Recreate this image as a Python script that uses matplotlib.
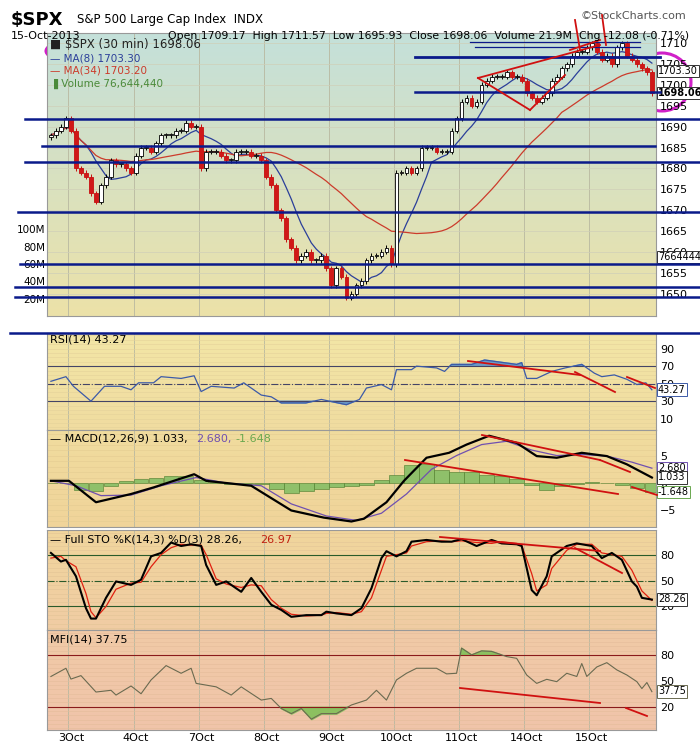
import numpy as np
import pandas as pd
import matplotlib
matplotlib.use("Agg")
import matplotlib.pyplot as plt
from matplotlib.patches import Ellipse
from matplotlib.lines import Line2D
from matplotlib.colors import LinearSegmentedColormap

# ---- data (30-min bars, 2-15 Oct 2013) ----
closes = [1688, 1689, 1690, 1692, 1689, 1680, 1679, 1678, 1674, 1672, 1676, 1678, 1682, 1681, 1681,
          1680, 1679, 1683, 1685, 1685, 1684, 1686, 1688, 1688, 1688, 1689, 1689, 1691, 1690, 1690,
          1680, 1684, 1684, 1684, 1683, 1682, 1682, 1684, 1684, 1684, 1683, 1683, 1682,
          1678, 1676, 1670, 1668, 1663, 1661, 1658, 1659, 1660, 1658, 1658, 1659, 1656,
          1652, 1656, 1654, 1649, 1650, 1652, 1653, 1658, 1659, 1659, 1660, 1661, 1657,
          1679, 1679, 1680, 1679, 1680, 1685, 1685, 1685, 1684, 1684, 1684, 1689, 1692,
          1696, 1697, 1695, 1696, 1700, 1701, 1702, 1702, 1702, 1703, 1702, 1702, 1701,
          1698, 1697, 1696, 1697, 1698, 1701, 1702, 1704, 1705, 1707, 1708, 1708, 1709,
          1710, 1708, 1706, 1707, 1705, 1709, 1710, 1707, 1706, 1705, 1704, 1703, 1698]
first_open = 1687.5

volume = [22, 20, 25, 70, 45, 32, 30, 28, 26, 22, 20, 22, 18, 20, 24, 22, 75, 43, 28, 25, 24, 22, 20, 18,
          16, 16, 18, 20, 22, 70, 30, 28, 25, 22, 20, 18, 20, 22, 18, 16, 20, 22, 24,
          77, 55, 30, 28, 25, 22, 22, 20, 30, 35, 32, 40, 38, 42, 30, 28, 25, 22, 30, 26, 22,
          28, 25, 40, 48, 35, 65, 35, 28, 22, 20, 18, 20, 18, 20, 22, 20, 18, 25,
          88, 55, 35, 30, 22, 20, 18, 22, 20, 18, 20, 22, 25, 75, 52, 30, 25, 22, 20, 18,
          20, 22, 18, 16, 20, 22, 72, 40, 30, 25, 22, 20, 18, 20, 22, 18, 28, 30, 78]

day_labels = ["3Oct", "4Oct", "7Oct", "8Oct", "9Oct", "10Oct", "11Oct", "14Oct", "15Oct"]
day_index = [4, 17, 30, 43, 56, 69, 82, 95, 108]

rsi_x = [0, 3, 4.5, 8, 10.7, 14, 16, 17.5, 20.5, 22, 26, 28.6, 30, 32, 36.6, 38.5, 42, 44, 46, 50.9,
         54, 59, 61.6, 63, 66, 68, 69, 72, 73, 77, 78.6, 80, 84, 86.6, 93, 94, 95, 97, 100, 102.7,
         106, 108.5, 110, 112.5, 115, 117, 118.8, 120]
rsi_y = [52.7, 58, 47, 30, 47, 47, 43, 51, 51, 58, 56, 59, 41, 47, 45, 51, 37, 35, 28, 28,
         32, 26, 32, 45, 49, 43, 66, 66, 70, 68, 64, 72, 72, 77, 72, 74, 56, 56, 64, 68,
         72, 62, 58, 60, 55, 49, 51, 43]

macd_x = [0, 3.6, 9, 16, 20.5, 28.6, 31, 40, 48, 54.5, 60, 62.5, 67, 70.5, 75, 79.5, 83, 87.5,
          93, 97, 101, 106, 111, 115, 120]
macd_y = [0.4, 0.4, -3.5, -2.0, -0.8, 1.6, 0.4, -0.5, -5.0, -6.3, -7.0, -6.5, -3.5, 0.4, 4.6, 5.5,
          7.0, 8.6, 7.3, 4.9, 4.6, 5.5, 4.9, 3.4, 1.0]
signal_x = [0, 5, 10, 16, 22, 29, 35, 42, 48, 55, 61, 66, 71, 76, 81, 86, 91, 96, 101, 106, 111,
            116, 120]
signal_y = [0.4, -0.5, -2.3, -2.2, -0.5, 1.0, 0.0, -0.5, -3.8, -6.0, -6.8, -5.5, -2.0, 2.5, 5.0,
            7.0, 7.6, 6.0, 5.0, 5.2, 4.9, 3.8, 2.7]
hist_x = list(range(0, 121, 3))
hist_y = [0, 0, -1.2, -1.5, -0.5, 0.3, 0.7, 1.0, 1.3, 1.2, 0.6, 0.2, -0.2, -0.2, -0.2, -1.0, -1.8,
          -1.5, -1.0, -0.8, -0.6, -0.3, 0.5, 1.5, 3.2, 3.5, 2.3, 2.0, 2.0, 1.5, 1.2, 0.8, -0.3,
          -1.2, -0.6, -0.2, 0.2, 0.0, -0.4, -0.9, -1.6]

sto_x = [0, 2, 3, 5, 7, 8, 9, 11, 13, 16, 18, 20, 22, 24, 26, 28, 30, 31, 33, 35, 38, 40, 42, 44,
         46, 48, 51, 54, 55, 57, 60, 62, 64, 66, 67, 69, 71, 72, 75, 78, 80, 82, 85, 88, 90, 93,
         94, 96, 97, 99, 100, 103, 105, 108, 110, 112, 114, 116, 117, 118, 120]
sto_k = [82, 72, 74, 55, 18, 6, 6, 30, 49, 45, 51, 78, 82, 94, 90, 92, 90, 68, 45, 49, 37, 53, 37,
         22, 16, 8, 10, 10, 14, 12, 10, 18, 41, 76, 84, 78, 84, 95, 97, 95, 95, 98, 90, 97, 93, 92,
         90, 39, 33, 55, 78, 90, 93, 90, 76, 82, 74, 49, 43, 30, 28]
sto_d = [76, 78, 73, 66, 35, 14, 7, 20, 40, 47, 48, 66, 80, 88, 92, 91, 91, 80, 52, 46, 42, 45,
         44, 28, 18, 11, 9, 10, 12, 13, 11, 14, 30, 62, 78, 80, 82, 90, 95, 96, 95, 96, 94, 93,
         95, 93, 91, 58, 38, 45, 64, 85, 92, 92, 82, 80, 78, 62, 50, 38, 27]

mfi_x = [0, 3, 4, 6, 9, 12, 13, 16, 18, 20, 23, 26, 28, 29, 33, 36, 38, 42, 44, 46, 48, 50, 52,
         54, 57, 60, 63, 65, 67, 69, 71, 73, 77, 79, 81, 82, 84, 86, 88, 91, 93, 95, 97, 99, 101,
         103, 105, 106, 107, 109, 111, 113, 115, 117, 118, 119, 120]
mfi_y = [55, 64.5, 52, 56, 37, 39, 33.5, 44, 35, 51, 67.6, 58.7, 64.5, 47, 43, 33.5, 43, 27.7,
         29.6, 18, 12, 18, 5.6, 12, 12, 22, 27.7, 39, 27.7, 51, 58.7, 64.5, 64.5, 58, 58.7, 87.8,
         80, 84.6, 84, 78, 76, 56.7, 47, 51.7, 49, 58.7, 55, 70, 55, 66, 71, 62.6, 56.7, 49, 41,
         48, 37.4]

# ---- figure ----
fig = plt.figure(figsize=(7, 7.48), dpi=100)
fig.patch.set_facecolor("white")
L, W = 0.067, 0.870
ax = fig.add_axes([L, 0.5775, W, 0.378])
ax_rsi = fig.add_axes([L, 0.425, W, 0.130])
ax_macd = fig.add_axes([L, 0.2955, W, 0.130])
ax_sto = fig.add_axes([L, 0.158, W, 0.134])
ax_mfi = fig.add_axes([L, 0.024, W, 0.134])

N = len(closes)
x = np.arange(N)
xlim = (-0.8, N - 0.2)


def bg(a, top, bottom, ylim):
    grad = np.linspace(0, 1, 100)[:, None]
    cm = LinearSegmentedColormap.from_list("g", [top, bottom])
    a.imshow(grad, aspect="auto", cmap=cm, extent=(xlim[0], xlim[1], ylim[0], ylim[1]),
             origin="upper", zorder=0)
    a.set_xlim(*xlim)
    a.set_ylim(*ylim)
    for d in day_index:
        a.axvline(d - 0.5, color="#b8b8a0", lw=0.6, zorder=0.5)
    for s in a.spines.values():
        s.set_color("#999999")
        s.set_linewidth(0.8)
    a.yaxis.tick_right()
    a.tick_params(axis="y", length=0, labelsize=8, pad=3)
    a.tick_params(axis="x", length=0, labelbottom=False)


# main price panel
pylim = (1644.6, 1712.4)
bg(ax, "#c4e0da", "#ece2a8", pylim)
for p in range(1650, 1712, 5):
    ax.axhline(p, color="#cfcfb8", lw=0.5, zorder=0.5)

axv = ax.twinx()
axv.set_ylim(0, 326)
axv.set_xlim(*xlim)
opens = [first_open] + closes[:-1]
vcol = ["#8fbf6a" if c >= o else "#e08a8a" for o, c in zip(opens, closes)]
axv.bar(x, volume, width=0.85, color=vcol, alpha=0.8, zorder=1)
axv.yaxis.tick_left()
axv.yaxis.set_label_position("left")
axv.set_yticks([20, 40, 60, 80, 100])
axv.set_yticklabels(["20M", "40M", "60M", "80M", "100M"])
axv.tick_params(axis="y", length=0, labelsize=7.5, pad=1)
for s in axv.spines.values():
    s.set_visible(False)
ax.set_zorder(axv.get_zorder() + 1)
ax.patch.set_visible(False)
ax.yaxis.tick_right()
ax.set_yticks(range(1650, 1711, 5))
ax.tick_params(axis="y", length=0, labelsize=8, pad=3, labelleft=False, labelright=True)

s = pd.Series(closes, dtype=float)
ma8 = s.rolling(8, min_periods=1).mean()
ma34 = s.rolling(34, min_periods=1).mean()
ax.plot(x, ma8, color="#2b3f9a", lw=0.9, zorder=3)
ax.plot(x, ma34, color="#cc3b2b", lw=0.9, zorder=3)
for i in range(N):
    o, c = opens[i], closes[i]
    hi, lo = max(o, c) + 0.6, min(o, c) - 0.6
    col = "black" if c >= o else "#c81010"
    ax.vlines(i, lo, hi, color=col, lw=0.7, zorder=4)
    body = max(abs(c - o), 0.25)
    ax.bar(i, body, bottom=min(o, c), width=0.75,
           color="white" if c >= o else "#d01818", edgecolor=col, lw=0.6, zorder=5)

ax.text(0.005, 0.985, "\u25a0 $SPX (30 min) 1698.06", transform=ax.transAxes, fontsize=8.5,
        va="top", color="#222222")
ax.text(0.005, 0.93, "\u2014 MA(8) 1703.30", transform=ax.transAxes, fontsize=7.5, va="top",
        color="#2b3f9a")
ax.text(0.005, 0.885, "\u2014 MA(34) 1703.20", transform=ax.transAxes, fontsize=7.5, va="top",
        color="#cc3b2b")
ax.text(0.005, 0.84, "\u2590 Volume 76,644,440", transform=ax.transAxes, fontsize=7.5, va="top",
        color="#4a8a3a")

# RSI
bg(ax_rsi, "#f3e6a6", "#f0dca0", (-3, 108))
for v in range(0, 108, 5):
    ax_rsi.axhline(v, color="#e4d29a", lw=0.4, zorder=0.5)
ax_rsi.axhline(70, color="#444466", lw=0.8)
ax_rsi.axhline(30, color="#444466", lw=0.8)
ax_rsi.axhline(50, color="#444466", lw=0.8, ls="-.")
ry = np.array(rsi_y)
ax_rsi.fill_between(rsi_x, ry, 70, where=ry > 70, color="#6a9ac8", interpolate=True)
ax_rsi.fill_between(rsi_x, ry, 30, where=ry < 30, color="#6a9ac8", interpolate=True)
ax_rsi.plot(rsi_x, rsi_y, color="#3c5aa8", lw=0.9)
ax_rsi.set_yticks([10, 30, 50, 70, 90])
ax_rsi.text(0.005, 0.98, "RSI(14) 43.27", transform=ax_rsi.transAxes, fontsize=8, va="top")

# MACD
bg(ax_macd, "#f0dc9e", "#f0d49a", (-8, 9.7))
for v in np.arange(-8, 10, 1):
    ax_macd.axhline(v, color="#e4cc92", lw=0.4, zorder=0.5)
ax_macd.bar(hist_x, hist_y, width=2.9, color="#8fc06a", edgecolor="#4a7a2a", lw=0.4, zorder=1)
ax_macd.plot(signal_x, signal_y, color="#7050b0", lw=0.9, zorder=2)
ax_macd.plot(macd_x, macd_y, color="black", lw=1.6, zorder=3)
ax_macd.set_yticks([-5, 0, 5])
ax_macd.text(0.005, 0.96, "\u2014 MACD(12,26,9) 1.033,", transform=ax_macd.transAxes,
             fontsize=8, va="top")
ax_macd.text(0.245, 0.96, "2.680,", transform=ax_macd.transAxes, fontsize=8, va="top",
             color="#7050b0")
ax_macd.text(0.31, 0.96, "-1.648", transform=ax_macd.transAxes, fontsize=8, va="top",
             color="#6aa84f")

# STO
bg(ax_sto, "#f0d69c", "#f0cca4", (-7, 109))
for v in range(-5, 109, 5):
    ax_sto.axhline(v, color="#e2c496", lw=0.4, zorder=0.5)
ax_sto.axhline(80, color="#2a5a2a", lw=0.8)
ax_sto.axhline(20, color="#2a5a2a", lw=0.8)
ax_sto.axhline(50, color="#2a5a2a", lw=0.8, ls="-.")
ax_sto.plot(sto_x, sto_d, color="#e02010", lw=0.9)
ax_sto.plot(sto_x, sto_k, color="black", lw=1.5)
ax_sto.set_yticks([20, 50, 80])
ax_sto.text(0.005, 0.95, "\u2014 Full STO %K(14,3) %D(3) 28.26,", transform=ax_sto.transAxes,
            fontsize=8, va="top")
ax_sto.text(0.35, 0.95, "26.97", transform=ax_sto.transAxes, fontsize=8, va="top",
            color="#c02010")

# MFI
bg(ax_mfi, "#f0caa6", "#f0c4aa", (-7, 109))
for v in range(-5, 109, 5):
    ax_mfi.axhline(v, color="#e4bc9a", lw=0.4, zorder=0.5)
ax_mfi.axhline(80, color="#8a1a1a", lw=0.8)
ax_mfi.axhline(20, color="#8a1a1a", lw=0.8)
my = np.array(mfi_y)
ax_mfi.fill_between(mfi_x, my, 80, where=my > 80, color="#8cc060", interpolate=True)
ax_mfi.fill_between(mfi_x, my, 20, where=my < 20, color="#8cc060", interpolate=True)
ax_mfi.plot(mfi_x, mfi_y, color="#6a6a50", lw=0.8)
ax_mfi.set_yticks([20, 50, 80])
ax_mfi.text(0.005, 0.95, "MFI(14) 37.75", transform=ax_mfi.transAxes, fontsize=8, va="top")
ax_mfi.set_xticks(day_index)
ax_mfi.set_xticklabels(day_labels)
ax_mfi.tick_params(axis="x", labelbottom=True, labelsize=8, pad=2)


# right-side value boxes
def tag(a, y, txt, ec="#333333", bold=False):
    a.annotate(txt, xy=(1.0, y), xycoords=("axes fraction", "data"), xytext=(1.5, 0),
               textcoords="offset points", fontsize=7, va="center",
               fontweight="bold" if bold else "normal",
               bbox=dict(boxstyle="square,pad=0.12", fc="white", ec=ec, lw=0.7),
               annotation_clip=False)


tag(ax, 1703.3, "1703.30")
tag(ax, 1698.06, "1698.06", bold=True)
tag(ax, 1658.8, "7664444")
tag(ax_rsi, 43.27, "43.27", ec="#3c5aa8")
tag(ax_macd, 2.68, "2.680", ec="#7050b0")
tag(ax_macd, 1.033, "1.033")
tag(ax_macd, -1.648, "-1.648", ec="#6aa84f")
tag(ax_sto, 28.26, "28.26")
tag(ax_mfi, 37.75, "37.75", ec="#6a6a50")


# ---- hand-drawn markup (figure pixels) ----
H = 748.0
def fl(x0, y0, x1, y1, color, lw):
    fig.add_artist(Line2D([x0 / 700, x1 / 700], [1 - y0 / H, 1 - y1 / H], color=color, lw=lw))


blue = "#0a1a8a"
for y0, x0, x1, w in [(42, 470, 640, 0.9), (47, 475, 640, 0.9), (57, 415, 660, 2), (92, 415, 660, 1.8),
                      (119, 25, 700, 1.8), (146, 42, 655, 1.8), (162, 25, 700, 1.8), (212, 18, 700, 1.8),
                      (264, 20, 700, 1.8), (287, 15, 700, 1.8), (297, 15, 700, 1.8), (333, 10, 700, 1.8)]:
    fl(x0, y0, x1, y0, blue, w)

red = "#d01010"
for seg in [(478, 78, 600, 45), (478, 78, 530, 110), (530, 110, 565, 75), (570, 50, 600, 40),
            (575, 20, 580, 50), (602, 15, 606, 45),
            (468, 361, 580, 375), (575, 372, 615, 392), (627, 377, 655, 388),
            (405, 460, 618, 494), (482, 435, 600, 460), (600, 460, 630, 472), (632, 487, 657, 495),
            (440, 537, 600, 551), (575, 548, 622, 573),
            (460, 688, 600, 703), (626, 708, 647, 716)]:
    fl(*seg, red, 1.3)

for cx, cy, w, h, c in [(73, 129, 28, 26, "#d01010"), (237, 155, 42, 26, "#d01010"),
                        (163, 150, 34, 30, "#20c020"), (405, 230, 30, 32, "#20c020"),
                        (91, 51, 90, 26, "#d020c8"), (662, 82, 58, 58, "#d020c8")]:
    e = Ellipse((cx / 700, 1 - cy / H), w / 700, h / H, fill=False, ec=c, lw=2.2,
                transform=fig.transFigure)
    fig.add_artist(e)

# header
fig.text(0.015, 0.985, "$SPX", fontsize=13, fontweight="bold", va="top")
fig.text(0.11, 0.982, "S&P 500 Large Cap Index  INDX", fontsize=8.5, va="top")
fig.text(0.015, 0.958, "15-Oct-2013", fontsize=8, va="top")
fig.text(0.24, 0.959, "Open 1709.17  High 1711.57  Low 1695.93  Close 1698.06  Volume 21.9M  Chg -12.08 (-0.71%)",
         fontsize=7.8, va="top")
fig.text(0.83, 0.985, "\u00a9StockCharts.com", fontsize=8, va="top", color="#555555")

fig.savefig("out.png", dpi=100)
